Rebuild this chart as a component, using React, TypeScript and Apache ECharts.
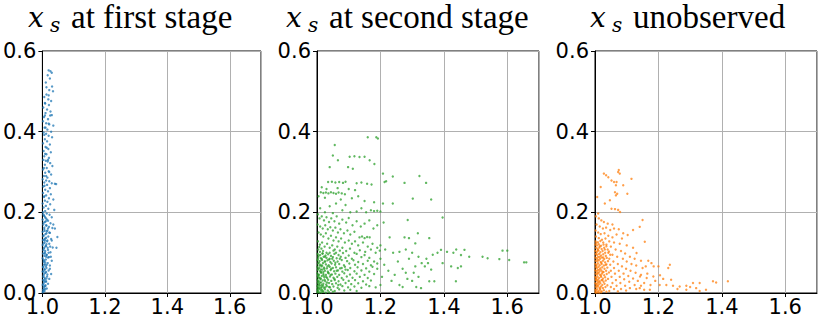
import React, { useEffect, useRef } from "react";
import * as echarts from "echarts";

const panelTitles = ["at first stage", "at second stage", "unobserved"];
const titleSymbol = "x";
const titleSub = "s";
const panelColors = ["#1f77b4", "#2ca02c", "#ff7f0e"];
const xTickLabels = ["1.0", "1.2", "1.4", "1.6"];
const yTickLabels = ["0.0", "0.2", "0.4", "0.6"];
const xMin = 1.0;
const xMax = 1.7;
const xStep = 0.2;
const yMin = 0;
const yMax = 0.6;
const yStep = 0.2;

// x_s at first stage (blue)
const firstStage: number[][] = [
  [1.02,0.552],[1.026,0.55],[1.03,0.546],[1.017,0.54],[1.024,0.532],[1.011,0.522],[1.031,0.512],[1.022,0.503],[1.034,0.5],[1.013,0.492],
  [1.006,0.486],[1.019,0.48],[1.028,0.476],[1.008,0.471],[1.021,0.466],[1.003,0.46],[1.015,0.455],[1.026,0.45],[1.01,0.446],[1.03,0.441],
  [1.005,0.436],[1.018,0.431],[1.002,0.426],[1.012,0.421],[1.022,0.418],[1.035,0.415],[1.007,0.41],[1.016,0.405],[1.028,0.4],[1.004,0.398],
  [1.012,0.395],[1.02,0.39],[1.031,0.386],[1.008,0.381],[1.015,0.376],[1.002,0.371],[1.024,0.368],[1.01,0.362],[1.019,0.357],[1.004,0.352],
  [1.027,0.349],[1.013,0.344],[1.006,0.339],[1.021,0.335],[1.003,0.33],[1.011,0.328],[1.017,0.326],[1.025,0.322],[1.008,0.318],[1.032,0.315],
  [1.014,0.31],[1.002,0.306],[1.02,0.302],[1.009,0.298],[1.028,0.294],[1.005,0.29],[1.016,0.286],[1.001,0.282],[1.012,0.279],[1.022,0.277],
  [1.006,0.274],[1.03,0.272],[1.04,0.271],[1.044,0.27],[1.015,0.268],[1.003,0.264],[1.024,0.26],[1.009,0.256],[1.018,0.252],[1.002,0.248],
  [1.027,0.245],[1.012,0.242],[1.005,0.238],[1.021,0.235],[1.035,0.232],[1.008,0.229],[1.016,0.226],[1.001,0.222],[1.025,0.22],[1.011,0.216],
  [1.004,0.212],[1.019,0.209],[1.038,0.206],[1.009,0.203],[1.002,0.2],[1.014,0.197],[1.023,0.194],[1.006,0.191],[1.03,0.188],[1.011,0.185],
  [1.001,0.182],[1.018,0.179],[1.008,0.176],[1.026,0.173],[1.003,0.17],[1.013,0.167],[1.021,0.164],[1.032,0.161],[1.04,0.16],[1.006,0.158],
  [1.016,0.155],[1.001,0.152],[1.024,0.149],[1.01,0.146],[1.004,0.143],[1.019,0.14],[1.048,0.139],[1.012,0.137],[1.028,0.134],[1.002,0.131],
  [1.015,0.128],[1.007,0.125],[1.022,0.122],[1.001,0.119],[1.011,0.116],[1.033,0.113],[1.045,0.112],[1.005,0.11],[1.018,0.107],[1.009,0.104],
  [1.026,0.101],[1.002,0.098],[1.014,0.095],[1.006,0.092],[1.021,0.089],[1.001,0.086],[1.011,0.083],[1.03,0.08],[1.004,0.077],[1.017,0.074],
  [1.008,0.071],[1.024,0.068],[1.002,0.065],[1.013,0.062],[1.006,0.059],[1.02,0.056],[1.001,0.053],[1.01,0.05],[1.028,0.047],[1.004,0.044],
  [1.015,0.041],[1.007,0.038],[1.022,0.035],[1.002,0.032],[1.012,0.029],[1.005,0.026],[1.018,0.023],[1.001,0.02],[1.009,0.017],[1.004,0.014],
  [1.014,0.011],[1.002,0.008],[1.007,0.005],[1.001,0.002],
  [1.003,0.195],[1.009,0.188],[1.015,0.182],[1.004,0.174],[1.012,0.168],[1.018,0.16],[1.007,0.154],[1.013,0.148],[1.003,0.141],[1.009,0.135],
  [1.016,0.13],[1.004,0.123],[1.011,0.117],[1.017,0.112],[1.003,0.106],[1.008,0.1],[1.013,0.094],[1.018,0.088],[1.004,0.082],[1.009,0.076],
  [1.014,0.07],[1.003,0.064],[1.008,0.058],[1.012,0.052],[1.016,0.046],[1.003,0.04],[1.008,0.034],[1.011,0.028],[1.003,0.022],[1.006,0.016],
  [1.009,0.01],[1.003,0.004],[1.022,0.15],[1.025,0.115],[1.027,0.09],[1.024,0.06],[1.035,0.17],[1.03,0.13],[1.02,0.1],[1.022,0.3],
  [1.018,0.33],[1.014,0.36],[1.02,0.42],[1.025,0.44],[1.009,0.47],[1.02,0.49],[1.013,0.51],[1.008,0.44],
  [1.005,0.192],[1.011,0.178],[1.006,0.162],[1.014,0.153],[1.006,0.133],[1.013,0.121],[1.006,0.113],[1.012,0.09],[1.006,0.08],[1.011,0.066],
  [1.006,0.048],[1.013,0.036],[1.006,0.03],[1.01,0.019],[1.005,0.009],[1.008,0.13],[1.007,0.098],[1.005,0.07],[1.004,0.054],[1.006,0.24],
  [1.007,0.266],[1.012,0.29],[1.005,0.31],[1.009,0.345],[1.006,0.392],[1.01,0.41]
];

// x_s at second stage (green)
const secondStage: number[][] = [
  [1.16,0.386],[1.187,0.386],[1.192,0.383],[1.056,0.367],[1.05,0.341],[1.066,0.329],[1.103,0.338],[1.118,0.339],[1.134,0.337],[1.15,0.338],
  [1.166,0.329],[1.181,0.32],[1.04,0.312],[1.098,0.312],[1.113,0.308],[1.208,0.296],[1.213,0.275],[1.218,0.277],[1.239,0.289],[1.323,0.29],
  [1.276,0.273],[1.344,0.273],[1.302,0.234],[1.36,0.232],[1.035,0.275],[1.047,0.276],[1.058,0.274],[1.07,0.275],[1.082,0.273],[1.09,0.276],
  [1.125,0.272],[1.14,0.274],[1.158,0.271],[1.172,0.269],[1.012,0.25],[1.02,0.248],[1.028,0.249],[1.036,0.247],[1.044,0.25],[1.052,0.248],
  [1.06,0.246],[1.068,0.249],[1.078,0.247],[1.088,0.245],[1.015,0.262],[1.03,0.258],[1.065,0.26],[1.1,0.258],[1.12,0.255],[1.005,0.24],
  [1.025,0.236],[1.075,0.232],[1.11,0.235],[1.13,0.24],[1.15,0.228],[1.18,0.225],[1.208,0.222],[1.239,0.222],[1.06,0.222],[1.09,0.218],
  [1.04,0.215],[1.01,0.21],[1.14,0.21],[1.17,0.205],[1.18,0.203],[1.19,0.204],[1.2,0.202],[1.155,0.2],[1.125,0.202],[1.396,0.187],
  [1.286,0.181],[1.105,0.2],[1.08,0.205],[1.025,0.2],[1.05,0.198],
  [1.003,0.195],[1.008,0.185],[1.015,0.19],[1.022,0.18],[1.03,0.188],[1.038,0.176],[1.045,0.185],[1.055,0.178],[1.062,0.19],[1.07,0.172],
  [1.08,0.182],[1.092,0.175],[1.1,0.186],[1.112,0.168],[1.125,0.178],[1.138,0.165],[1.15,0.172],[1.165,0.18],[1.178,0.16],[1.19,0.168],
  [1.21,0.175],[1.002,0.17],[1.01,0.165],[1.018,0.16],[1.026,0.168],[1.034,0.158],[1.042,0.163],[1.05,0.155],[1.058,0.162],[1.066,0.15],
  [1.074,0.158],[1.085,0.148],[1.096,0.155],[1.105,0.145],[1.118,0.152],[1.134,0.138],[1.142,0.14],[1.15,0.136],[1.158,0.139],[1.166,0.138],
  [1.229,0.138],[1.276,0.138],[1.29,0.136],[1.354,0.136],[1.318,0.148],[1.31,0.123],[1.005,0.15],[1.012,0.145],[1.02,0.14],[1.028,0.148],
  [1.036,0.135],[1.044,0.142],[1.052,0.13],[1.06,0.138],[1.068,0.128],[1.076,0.135],[1.088,0.125],[1.1,0.13],[1.11,0.122],[1.12,0.128],
  [1.13,0.118],[1.145,0.125],[1.16,0.115],[1.175,0.122],[1.19,0.112],[1.2,0.118],[1.215,0.108],[1.003,0.128],[1.009,0.12],[1.016,0.125],
  [1.024,0.115],[1.032,0.122],[1.04,0.112],[1.048,0.118],[1.056,0.108],[1.064,0.115],[1.072,0.105],[1.08,0.112],[1.092,0.104],[1.104,0.11],
  [1.118,0.1],[1.135,0.106],[1.152,0.102],[1.17,0.108],[1.185,0.1],[1.198,0.105],[1.24,0.1],[1.26,0.102],[1.28,0.108],[1.3,0.1],
  [1.391,0.107],[1.439,0.108],[1.465,0.107],[1.454,0.094],[1.48,0.09],[1.522,0.09],[1.538,0.086],[1.575,0.084],[1.585,0.105],[1.6,0.105],
  [1.606,0.082],[1.653,0.076],[1.66,0.076],[1.396,0.074],[1.423,0.066],[1.444,0.062],[1.454,0.066],[1.438,0.029],[1.354,0.029],[1.37,0.029],
  [1.313,0.015],[1.328,0.012],[1.27,0.015],[1.34,0.066],[1.36,0.058],[1.35,0.074],[1.31,0.066],[1.33,0.074],[1.32,0.09],[1.345,0.085],
  [1.365,0.095],[1.38,0.1],[1.41,0.102],[1.43,0.1],[1.29,0.085],[1.305,0.05],[1.32,0.04],[1.3,0.03],[1.285,0.035],[1.27,0.06],
  [1.255,0.078],[1.245,0.045],[1.26,0.02],[1.235,0.03],[1.225,0.055],[1.212,0.07],[1.2,0.085],[1.205,0.04],[1.2,0.02],[1.19,0.06],[1.28,0.05],
  [1.002,0.097],[1.01,0.094],[1.018,0.098],[1.027,0.093],[1.035,0.096],[1.044,0.092],[1.055,0.097],[1.068,0.094],[1.082,0.099],[1.1,0.093],[1.125,0.097],[1.15,0.094],
  [1.004,0.089],[1.012,0.086],[1.021,0.09],[1.03,0.087],[1.04,0.085],[1.05,0.089],[1.062,0.086],[1.075,0.09],[1.09,0.087],[1.11,0.085],[1.14,0.089],[1.165,0.087],
  [1.001,0.081],[1.008,0.079],[1.016,0.082],[1.024,0.078],[1.033,0.081],[1.042,0.077],[1.053,0.08],[1.065,0.078],[1.078,0.082],[1.095,0.079],[1.115,0.081],[1.13,0.077],[1.16,0.08],[1.18,0.078],
  [1.003,0.073],[1.011,0.07],[1.019,0.074],[1.028,0.071],[1.037,0.069],[1.046,0.073],[1.057,0.07],[1.07,0.072],[1.085,0.069],[1.102,0.073],[1.12,0.07],[1.145,0.072],[1.17,0.069],[1.19,0.073],
  [1.001,0.065],[1.007,0.062],[1.014,0.066],[1.022,0.063],[1.031,0.061],[1.04,0.065],[1.05,0.062],[1.06,0.064],[1.073,0.061],[1.088,0.065],[1.105,0.062],[1.128,0.064],[1.155,0.061],[1.175,0.065],
  [1.002,0.057],[1.009,0.054],[1.017,0.058],[1.025,0.055],[1.034,0.053],[1.043,0.057],[1.054,0.054],[1.066,0.056],[1.08,0.053],[1.097,0.057],[1.118,0.054],[1.14,0.056],[1.165,0.053],
  [1.001,0.049],[1.006,0.046],[1.013,0.05],[1.02,0.047],[1.028,0.045],[1.037,0.049],[1.047,0.046],[1.058,0.048],[1.07,0.045],[1.086,0.049],[1.104,0.046],[1.125,0.048],[1.15,0.045],[1.18,0.047],
  [1.002,0.041],[1.008,0.038],[1.015,0.042],[1.023,0.039],[1.032,0.037],[1.041,0.041],[1.052,0.038],[1.064,0.04],[1.078,0.037],[1.094,0.041],[1.112,0.038],[1.135,0.04],[1.16,0.037],
  [1.001,0.033],[1.005,0.03],[1.011,0.034],[1.018,0.031],[1.026,0.029],[1.035,0.033],[1.045,0.03],[1.056,0.032],[1.068,0.029],[1.083,0.033],[1.1,0.03],[1.12,0.032],[1.145,0.029],[1.17,0.031],
  [1.002,0.025],[1.007,0.022],[1.013,0.026],[1.02,0.023],[1.029,0.021],[1.038,0.025],[1.048,0.022],[1.06,0.024],[1.074,0.021],[1.09,0.025],[1.108,0.022],[1.13,0.024],[1.155,0.021],
  [1.001,0.017],[1.004,0.014],[1.009,0.018],[1.015,0.015],[1.022,0.013],[1.031,0.017],[1.041,0.014],[1.052,0.016],[1.065,0.013],[1.08,0.017],[1.098,0.014],[1.118,0.016],[1.14,0.013],[1.165,0.017],[1.185,0.014],
  [1.001,0.009],[1.003,0.006],[1.007,0.01],[1.012,0.007],[1.018,0.005],[1.025,0.009],[1.034,0.006],[1.044,0.008],[1.056,0.005],[1.07,0.009],[1.086,0.006],[1.105,0.008],[1.125,0.005],
  [1.001,0.002],[1.004,0.003],[1.008,0.001],[1.014,0.002],[1.02,0.003],[1.028,0.001],[1.038,0.002],[1.05,0.003],
  [1.005,0.093],[1.015,0.085],[1.025,0.09],[1.006,0.075],[1.016,0.068],[1.026,0.078],[1.004,0.06],[1.013,0.052],[1.023,0.06],[1.035,0.05],
  [1.005,0.044],[1.012,0.036],[1.021,0.043],[1.004,0.028],[1.015,0.02],[1.024,0.033],[1.006,0.012],[1.016,0.008],[1.045,0.06],[1.048,0.085],
  [1.038,0.015],[1.03,0.1],[1.06,0.1],[1.09,0.058],
  [1.004,0.108],[1.009,0.102],[1.014,0.11],[1.019,0.104],[1.007,0.114],[1.003,0.084],[1.008,0.068],[1.012,0.058],[1.003,0.044],[1.009,0.026],
  [1.005,0.02],[1.012,0.012],[1.019,0.018],[1.026,0.014],[1.032,0.026],[1.029,0.04],[1.02,0.052],[1.033,0.066],[1.038,0.083],[1.043,0.045],
  [1.055,0.035],[1.062,0.055],[1.058,0.075],[1.072,0.085],[1.067,0.02],[1.078,0.062],[1.006,0.038],[1.017,0.098],[1.04,0.1],[1.052,0.105]
];

// x_s unobserved (orange)
const unobserved: number[][] = [
  [1.075,0.305],[1.073,0.3],[1.078,0.296],[1.028,0.296],[1.035,0.292],[1.042,0.287],[1.052,0.279],[1.06,0.275],[1.115,0.283],[1.068,0.275],
  [1.066,0.267],[1.018,0.263],[1.089,0.267],[1.063,0.25],[1.07,0.246],[1.066,0.242],[1.102,0.246],[1.007,0.238],[1.047,0.23],[1.031,0.222],
  [1.052,0.209],[1.063,0.208],[1.073,0.206],[1.079,0.201],[1.01,0.197],[1.15,0.181],[1.12,0.156],[1.089,0.148],[1.103,0.144],[1.141,0.164],
  [1.157,0.127],[1.131,0.099],[1.168,0.08],[1.178,0.074],[1.16,0.066],[1.185,0.066],[1.2,0.066],[1.236,0.07],[1.231,0.062],[1.205,0.044],
  [1.184,0.041],[1.163,0.037],[1.142,0.041],[1.24,0.033],[1.204,0.02],[1.225,0.02],[1.246,0.018],[1.267,0.016],[1.288,0.018],[1.309,0.025],
  [1.33,0.025],[1.372,0.029],[1.382,0.026],[1.419,0.029],[1.288,0.008],[1.319,0.012],[1.35,0.008],[1.173,0.008],[1.141,0.012],[1.19,0.03],
  [1.215,0.035],[1.26,0.01],[1.3,0.015],[1.33,0.005],
  [1.003,0.19],[1.012,0.185],[1.02,0.18],[1.028,0.176],[1.04,0.172],[1.055,0.17],[1.005,0.17],[1.015,0.165],[1.025,0.16],[1.035,0.162],
  [1.048,0.156],[1.06,0.16],[1.075,0.158],[1.002,0.155],[1.01,0.15],[1.018,0.146],[1.03,0.148],[1.042,0.142],[1.055,0.138],[1.068,0.145],
  [1.085,0.135],[1.003,0.14],[1.012,0.136],[1.022,0.132],[1.033,0.135],[1.045,0.128],[1.06,0.125],[1.078,0.122],[1.1,0.118],[1.12,0.112],
  [1.036,0.12],[1.05,0.115],[1.065,0.108],[1.082,0.104],[1.095,0.098],[1.11,0.09],[1.125,0.085],[1.145,0.08],[1.042,0.1],[1.055,0.095],
  [1.07,0.09],[1.088,0.085],[1.1,0.078],[1.115,0.072],[1.13,0.068],[1.15,0.062],[1.045,0.085],[1.058,0.078],[1.072,0.072],[1.085,0.066],
  [1.098,0.06],[1.112,0.055],[1.128,0.05],[1.145,0.045],[1.165,0.048],[1.048,0.07],[1.06,0.062],[1.075,0.055],[1.09,0.048],[1.105,0.042],
  [1.12,0.036],[1.135,0.03],[1.155,0.025],[1.175,0.02],[1.05,0.055],[1.063,0.048],[1.078,0.04],[1.092,0.034],[1.108,0.028],[1.125,0.02],
  [1.145,0.018],[1.052,0.04],[1.066,0.032],[1.08,0.025],[1.095,0.018],[1.11,0.012],[1.13,0.01],[1.155,0.008],[1.055,0.025],[1.068,0.018],
  [1.082,0.01],[1.098,0.006],[1.06,0.01],[1.072,0.004],[1.045,0.005],[1.05,0.015],
  [1.002,0.128],[1.009,0.126],[1.017,0.129],[1.026,0.125],
  [1.001,0.12],[1.006,0.118],[1.012,0.121],[1.019,0.117],[1.027,0.12],[1.036,0.116],
  [1.003,0.112],[1.008,0.11],[1.014,0.113],[1.021,0.109],[1.029,0.112],[1.04,0.108],
  [1.001,0.104],[1.006,0.102],[1.011,0.105],[1.017,0.101],[1.024,0.104],[1.032,0.1],[1.044,0.103],
  [1.002,0.096],[1.007,0.094],[1.013,0.097],[1.019,0.093],[1.026,0.096],[1.034,0.092],[1.048,0.095],
  [1.001,0.088],[1.005,0.086],[1.01,0.089],[1.016,0.085],[1.022,0.088],[1.029,0.084],[1.037,0.087],
  [1.002,0.08],[1.007,0.078],[1.012,0.081],[1.018,0.077],[1.025,0.08],[1.032,0.076],[1.041,0.079],
  [1.001,0.072],[1.005,0.07],[1.01,0.073],[1.015,0.069],[1.021,0.072],[1.028,0.068],[1.036,0.071],
  [1.002,0.064],[1.006,0.062],[1.011,0.065],[1.017,0.061],[1.023,0.064],[1.03,0.06],[1.039,0.063],
  [1.001,0.056],[1.005,0.054],[1.009,0.057],[1.014,0.053],[1.02,0.056],[1.027,0.052],[1.035,0.055],[1.044,0.051],
  [1.002,0.048],[1.006,0.046],[1.011,0.049],[1.016,0.045],[1.022,0.048],[1.029,0.044],[1.037,0.047],
  [1.001,0.04],[1.004,0.038],[1.008,0.041],[1.013,0.037],[1.019,0.04],[1.025,0.036],[1.032,0.039],[1.041,0.035],
  [1.002,0.032],[1.006,0.03],[1.01,0.033],[1.015,0.029],[1.021,0.032],[1.027,0.028],[1.034,0.031],
  [1.001,0.024],[1.004,0.022],[1.008,0.025],[1.012,0.021],[1.017,0.024],[1.023,0.02],[1.03,0.023],[1.039,0.019],
  [1.002,0.016],[1.005,0.014],[1.009,0.017],[1.014,0.013],[1.019,0.016],[1.025,0.012],[1.033,0.015],
  [1.001,0.008],[1.003,0.006],[1.007,0.009],[1.011,0.005],[1.016,0.008],[1.021,0.004],[1.028,0.007],[1.036,0.003],
  [1.001,0.002],[1.004,0.001],[1.008,0.002],[1.013,0.001],[1.019,0.002],
  [1.004,0.124],[1.015,0.116],[1.009,0.107],[1.004,0.098],[1.015,0.09],[1.008,0.083],[1.02,0.075],[1.004,0.067],[1.014,0.058],[1.008,0.05],
  [1.019,0.043],[1.004,0.035],[1.012,0.027],[1.006,0.019],[1.016,0.011],[1.024,0.052],[1.026,0.088],[1.031,0.108],[1.023,0.032],[1.034,0.07]
];

const panelData = [firstStage, secondStage, unobserved];

const GRID_LEFTS = [39, 317, 595];
const GRID_WIDTH = 222;
const GRID_TOP = 51;
const GRID_HEIGHT = 242;
const TITLE_LEFTS = [28, 286, 590];

export default function App() {
  const ref = useRef<HTMLDivElement>(null);
  useEffect(() => {
    if (!ref.current) return;
    const chart = echarts.init(ref.current, undefined, { renderer: "svg" });
    const fmt = (v: number) => v.toFixed(1);
    const grids = GRID_LEFTS.map((left) => ({
      left,
      top: GRID_TOP,
      width: GRID_WIDTH,
      height: GRID_HEIGHT,
      show: true,
      borderColor: "#000",
      borderWidth: 1,
      backgroundColor: "transparent",
    }));
    const xAxes = GRID_LEFTS.map((_, i) => ({
      type: "value",
      gridIndex: i,
      min: xMin,
      max: xMax,
      interval: xStep,
      axisLine: { show: true, lineStyle: { color: "#000", width: 1 } },
      axisTick: { show: true, length: 4, lineStyle: { color: "#000" } },
      axisLabel: {
        show: true,
        margin: 3,
        fontSize: 21,
        fontFamily: "DejaVu Sans",
        color: "#000",
        showMaxLabel: false,
        formatter: (v: number) => (xTickLabels.includes(fmt(v)) ? fmt(v) : ""),
      },
      splitLine: { show: true, lineStyle: { color: "#b0b0b0", width: 1 } },
    }));
    const yAxes = GRID_LEFTS.map((_, i) => ({
      type: "value",
      gridIndex: i,
      min: yMin,
      max: yMax,
      interval: yStep,
      axisLine: { show: true, lineStyle: { color: "#000", width: 1 } },
      axisTick: { show: true, length: 4, lineStyle: { color: "#000" } },
      axisLabel: {
        show: true,
        margin: 6,
        fontSize: 21,
        fontFamily: "DejaVu Sans",
        color: "#000",
        formatter: (v: number) => (yTickLabels.includes(fmt(v)) ? fmt(v) : ""),
      },
      splitLine: { show: true, lineStyle: { color: "#b0b0b0", width: 1 } },
    }));
    const series = panelData.map((d, i) => ({
      type: "scatter",
      xAxisIndex: i,
      yAxisIndex: i,
      data: d,
      symbol: "circle",
      symbolSize: 2.4,
      silent: true,
      clip: true,
      itemStyle: { color: panelColors[i], opacity: 0.75 },
    }));
    const graphic: any[] = [];
    TITLE_LEFTS.forEach((left, i) => {
      graphic.push({
        type: "text",
        style: {
          text: titleSymbol,
          x: left,
          y: 17.5,
          fontFamily: "DejaVu Serif",
          fontStyle: "italic",
          fontSize: 28,
          fill: "#000",
          align: "left",
          verticalAlign: "middle",
        },
      });
      graphic.push({
        type: "text",
        style: {
          text: titleSub,
          x: left + 22,
          y: 24.5,
          fontFamily: "DejaVu Serif",
          fontStyle: "italic",
          fontSize: 20,
          fill: "#000",
          align: "left",
          verticalAlign: "middle",
        },
      });
      graphic.push({
        type: "text",
        style: {
          text: panelTitles[i],
          x: left + 43,
          y: 16.8,
          fontFamily: "Liberation Serif",
          fontSize: 33,
          fill: "#000",
          align: "left",
          verticalAlign: "middle",
        },
      });
    });
    chart.setOption({
      animation: false,
      backgroundColor: "#fff",
      grid: grids,
      xAxis: xAxes,
      yAxis: yAxes,
      series,
      graphic,
    });
    return () => chart.dispose();
  }, []);
  return (
    <div
      ref={ref}
      style={{ position: "absolute", left: 0, top: 0, width: 821, height: 318 }}
    />
  );
}
